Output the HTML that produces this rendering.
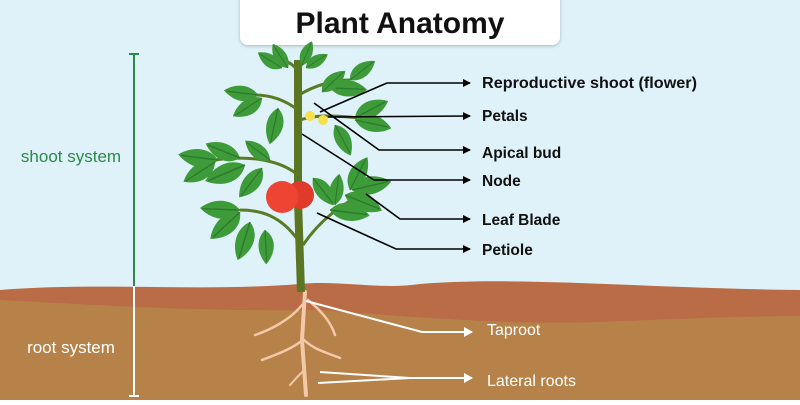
<!DOCTYPE html>
<html><head><meta charset="utf-8"><style>
body{margin:0;width:800px;height:400px;overflow:hidden;font-family:"Liberation Sans",sans-serif}
</style></head><body>
<svg width="800" height="400" viewBox="0 0 800 400" xmlns="http://www.w3.org/2000/svg">
<defs>
<marker id="ab" markerWidth="8" markerHeight="8" refX="7" refY="4" orient="auto" markerUnits="userSpaceOnUse"><path d="M0,0 L8,4 L0,8z" fill="#000"/></marker>
<marker id="aw" markerWidth="9" markerHeight="10" refX="8" refY="5" orient="auto" markerUnits="userSpaceOnUse"><path d="M0,0 L9,5 L0,10z" fill="#fff"/></marker>
<g id="lf"><path d="M0,0 C4,-10 16,-13 28,-6 C20,4 8,6 0,0z" fill="#3e9b3a"/><path d="M0,0 L26,-6" stroke="#2d7a2b" stroke-width="1"/></g>
<filter id="sh"><feDropShadow dx="0" dy="1" stdDeviation="1.5" flood-opacity="0.25"/></filter>
</defs>
<rect width="800" height="400" fill="#dff1f9"/>
<path d="M0,290 C100,282 200,292 300,284 C340,280 380,290 420,284 C520,276 640,288 800,290 L800,400 L0,400z" fill="#b96c46"/>
<path d="M0,300 C80,304 200,312 320,310 C420,318 520,325 600,322 C700,318 760,316 800,316 L800,400 L0,400z" fill="#b7824a"/>
<rect x="240" y="-10" width="320" height="55" rx="8" fill="#fff" filter="url(#sh)"/>
<text x="400" y="33" text-anchor="middle" font-size="30" font-weight="bold" fill="#111">Plant Anatomy</text>
<line x1="134" y1="54" x2="134" y2="286" stroke="#2a8a4a" stroke-width="2"/>
<line x1="129" y1="54" x2="139" y2="54" stroke="#2a8a4a" stroke-width="2"/>
<line x1="134" y1="286" x2="134" y2="396" stroke="#fff" stroke-width="2"/>
<line x1="129" y1="396" x2="139" y2="396" stroke="#fff" stroke-width="2"/>
<text x="71" y="162" text-anchor="middle" font-size="17" fill="#2a8a4a">shoot system</text>
<text x="71" y="353" text-anchor="middle" font-size="17" fill="#fff">root system</text>
<g stroke="#f3c9a8" fill="none" stroke-linecap="round">
<path d="M305,292 L302,340 L306,395" stroke-width="4"/>
<path d="M302,305 C290,320 270,330 255,335" stroke-width="2.5"/>
<path d="M303,340 C290,350 275,355 262,360" stroke-width="2.5"/>
<path d="M304,340 C315,350 325,352 340,358" stroke-width="2.5"/>
<path d="M308,300 C320,310 330,320 335,335" stroke-width="2.5"/>
<path d="M305,370 C298,375 295,380 290,385" stroke-width="2"/>
</g>
<path d="M301,292 L298,200 L298,60" stroke="#5a7622" stroke-width="8" fill="none"/>
<g stroke="#5b7a24" stroke-width="3" fill="none">
<path d="M298,240 C280,215 260,210 240,210"/><path d="M298,175 C280,160 250,155 215,160"/>
<path d="M303,245 C320,220 340,205 370,190"/><path d="M298,110 C285,100 270,95 255,95"/>
<path d="M299,95 C315,85 335,80 350,80"/><path d="M300,120 C315,115 330,115 360,118"/>
<path d="M297,70 C290,60 280,58 265,62"/><path d="M298,68 C305,60 315,58 320,60"/>
</g>
<g>
<use href="#lf" transform="translate(218,160) rotate(200) scale(1.4)"/>
<use href="#lf" transform="translate(215,162) rotate(160) scale(1.3)"/>
<use href="#lf" transform="translate(245,165) rotate(170) scale(1.5)"/>
<use href="#lf" transform="translate(240,158) rotate(215) scale(1.3)"/>
<use href="#lf" transform="translate(262,168) rotate(140) scale(1.3)"/>
<use href="#lf" transform="translate(270,160) rotate(230) scale(1.1)"/>
<use href="#lf" transform="translate(240,210) rotate(195) scale(1.4)"/>
<use href="#lf" transform="translate(250,222) rotate(120) scale(1.4)"/>
<use href="#lf" transform="translate(240,212) rotate(150) scale(1.4)"/>
<use href="#lf" transform="translate(265,230) rotate(100) scale(1.2)"/>
<use href="#lf" transform="translate(258,95) rotate(200) scale(1.2)"/>
<use href="#lf" transform="translate(262,98) rotate(160) scale(1.2)"/>
<use href="#lf" transform="translate(278,108) rotate(115) scale(1.3)"/>
<use href="#lf" transform="translate(350,80) rotate(-25) scale(1.1)"/>
<use href="#lf" transform="translate(330,88) rotate(15) scale(1.3)"/>
<use href="#lf" transform="translate(322,92) rotate(-30) scale(1.1)"/>
<use href="#lf" transform="translate(355,118) rotate(-15) scale(1.3)"/>
<use href="#lf" transform="translate(355,120) rotate(25) scale(1.3)"/>
<use href="#lf" transform="translate(335,125) rotate(75) scale(1.2)"/>
<use href="#lf" transform="translate(350,190) rotate(-50) scale(1.3)"/>
<use href="#lf" transform="translate(352,190) rotate(0) scale(1.4)"/>
<use href="#lf" transform="translate(345,195) rotate(35) scale(1.4)"/>
<use href="#lf" transform="translate(330,210) rotate(20) scale(1.4)"/>
<use href="#lf" transform="translate(335,205) rotate(-70) scale(1.1)"/>
<use href="#lf" transform="translate(313,178) rotate(65) scale(1.2)"/>
<use href="#lf" transform="translate(282,68) rotate(225) scale(1)"/>
<use href="#lf" transform="translate(288,68) rotate(250) scale(1)"/>
<use href="#lf" transform="translate(302,65) rotate(-55) scale(0.9)"/>
<use href="#lf" transform="translate(306,68) rotate(-20) scale(0.9)"/>
</g>
<circle cx="300" cy="195" r="14" fill="#e03a2a"/>
<circle cx="282" cy="197" r="16" fill="#ee4434"/>
<g fill="#f5e04a"><circle cx="310" cy="116" r="5"/><circle cx="323" cy="120" r="5"/></g>
<g stroke="#000" stroke-width="1.6" fill="none">
<polyline points="320,112 387,83 470,83" marker-end="url(#ab)"/>
<polyline points="328,117 470,116" marker-end="url(#ab)"/>
<polyline points="314,103 379,150 470,150" marker-end="url(#ab)"/>
<polyline points="302,134 374,180 470,180" marker-end="url(#ab)"/>
<polyline points="366,194 400,219 470,219" marker-end="url(#ab)"/>
<polyline points="317,213 396,249 470,249" marker-end="url(#ab)"/>
</g>
<g stroke="#fff" stroke-width="2" fill="none">
<polyline points="306,301 422,332 472,332" marker-end="url(#aw)"/>
<polyline points="320,372 410,378 472,378" marker-end="url(#aw)"/>
<polyline points="318,383 410,378"/>
</g>
<g font-size="15.5" font-weight="bold" fill="#111">
<text x="482" y="88" textLength="215" lengthAdjust="spacingAndGlyphs">Reproductive shoot (flower)</text>
<text x="482" y="121">Petals</text>
<text x="482" y="158">Apical bud</text>
<text x="482" y="186">Node</text>
<text x="482" y="225">Leaf Blade</text>
<text x="482" y="255">Petiole</text>
</g>
<g font-size="16" fill="#fff">
<text x="487" y="335">Taproot</text>
<text x="487" y="386">Lateral roots</text>
</g>
</svg>
</body></html>
